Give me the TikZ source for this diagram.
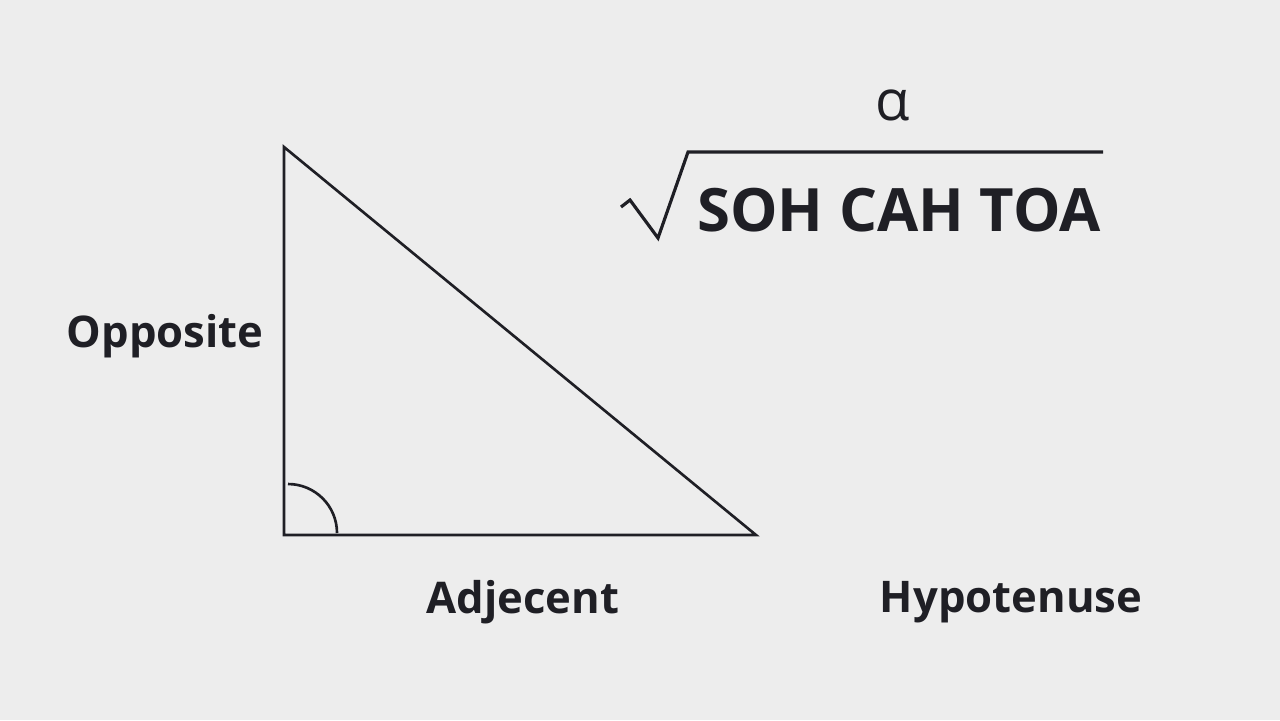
\documentclass[tikz,border=0pt]{standalone}
\usepackage{fontspec}
\setmainfont{Open Sans}
\usetikzlibrary{positioning}

\definecolor{bgcol}{HTML}{EDEDED}
\definecolor{inkcol}{HTML}{1F1F25}

\tikzset{
  side/.style={draw=inkcol, line width=0.75pt},
  lbl/.style={text=inkcol, font=\fontsize{12.4}{15}\selectfont\bfseries, inner sep=0pt},
  big/.style={text=inkcol, font=\fontsize{17}{22}\selectfont\bfseries, inner sep=0pt}
}

\begin{document}
\begin{tikzpicture}[x=0.01cm, y=-0.01cm]
    \fill[bgcol] (0,0) rectangle (1280,720);
    \useasboundingbox (0,0) rectangle (1280,720);
    % triangle
    \coordinate (top) at (284,147);
    \coordinate (rgt) at (284,535);
    \coordinate (end) at (756,535);
    \draw[side, line join=miter] (top) -- (rgt) -- (end) -- cycle;
    \draw[side] (288,484) arc[start angle=-90, end angle=0, radius=49];
    % labels
    \node[lbl] (opp) at (165,336) {Opposite};
    \node[lbl] (adj) at (523,602) {Adjecent};
    \node[lbl] (hyp) at (1011,602) {Hypotenuse};
    % formula
    \node[big, font=\fontsize{16}{20}\selectfont] (alpha) at (893,105) {α};
    \node[big] (soh) at (899,210) {SOH CAH TOA};
    \draw[side, line width=0.9pt, line join=miter] (621,207) -- (630,200) -- (658,238) -- (688,152) -- (1103,152);
\end{tikzpicture}
\end{document}
